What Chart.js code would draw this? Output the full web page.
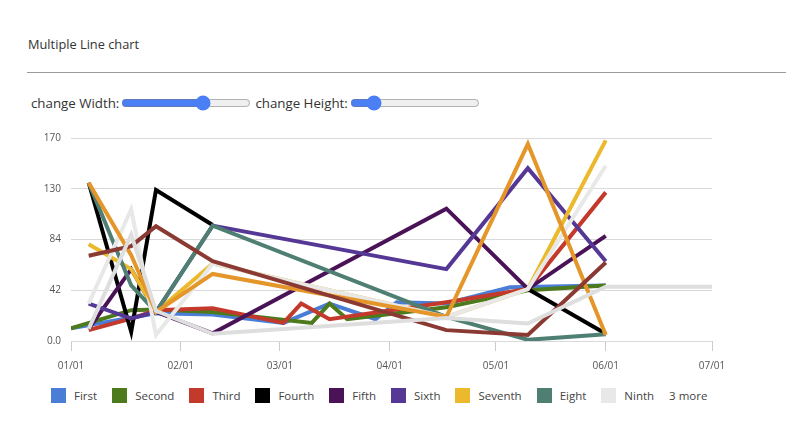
<!DOCTYPE html>
<html>
<head>
<meta charset="utf-8">
<script src="https://cdn.jsdelivr.net/npm/chart.js@4.4.1/dist/chart.umd.min.js"></script>
<style>
  body { margin:0; width:786px; height:444px; background:#fff; font-family:"Open Sans", "Noto Sans", sans-serif; color:#333; position:relative; overflow:hidden; }
  .title { position:absolute; left:28px; top:35px; font-size:12.8px; color:#333; }
  .rule { position:absolute; left:27px; right:0; top:72px; border-top:1px solid #9a9a9a; }
  .controls { position:absolute; left:31px; top:94px; font-size:13.3px; color:#333; display:flex; align-items:center; }
  .controls input { width:130px; margin:0 4px 0 2px; accent-color:#4a7ff5; }
  #wrap { position:absolute; left:20px; top:122px; width:720px; height:249px; }
  #legend { position:absolute; left:51px; top:388px; display:flex; align-items:center; font-size:11.5px; color:#444; }
  .item { display:flex; align-items:center; margin-right:15px; }
  .sw { width:15px; height:15px; margin-right:8px; }
</style>
</head>
<body>
<div class="title">Multiple Line chart</div>
<div class="rule"></div>
<div class="controls">
  <label>change Width:</label><input type="range" min="0" max="100" value="65">
  <label>change Height:</label><input type="range" min="0" max="100" value="14">
</div>
<div id="wrap"><canvas id="lineChart"></canvas></div>
<div id="legend"></div>
<script>
// dates shared by every series (null = no point on that date)
const dates = ['2023-01-01', '2023-01-06', '2023-01-18', '2023-01-25', '2023-02-10', '2023-03-02',
    '2023-03-07', '2023-03-10', '2023-03-15', '2023-03-20', '2023-03-28', '2023-04-03',
    '2023-04-17', '2023-05-05', '2023-05-10', '2023-06-01', '2023-07-01'];
const monthTicks = ['2023-01-01', '2023-02-01', '2023-03-01', '2023-04-01', '2023-05-01', '2023-06-01', '2023-07-01'];
const yTicks = [0, 42, 84, 126, 168];
const yTickLabels = ['0.0', '42', '84', '130', '170'];

const seriesNames = ['First', 'Second', 'Third', 'Fourth', 'Fifth', 'Sixth', 'Seventh', 'Eight', 'Ninth', 'Tenth', 'Eleventh', 'Twelfth'];
const seriesColors = ['#4a7ed6', '#4c7a1c', '#c3392b', '#000000', '#4a1257', '#553895', '#ebb92b', '#4e7f72', '#e8e8e8', '#e5962a', '#8b3a33', '#dedede'];

const first    = [10.5, null, null, 23, 22, 15, null, null, 31, null, 18, 32, 31, 44.5, null, 46, null];
const second   = [10.5, null, 25.5, 26, 24, null, null, 15, 31, 18, null, null, 28, null, 42, 46, null];
const third    = [null, 9, 18.6, 25.5, 27, 15, 31, null, 18, null, null, null, 32, null, 43, 123, null];
const fourth   = [null, 131, 7.6, 125, 96, null, null, null, null, null, null, null, null, null, 43, 6, null];
const fifth    = [null, 10, 59.5, 24, 6.3, null, null, null, null, null, null, null, 109.5, null, 43, 87, null];
const sixth    = [null, 31, 18.6, 24, 95.5, null, null, null, null, null, null, null, 59.5, null, 143, 66, null];
const seventh  = [null, 80, 59.5, 24, 64, null, null, null, null, null, null, null, 20, null, 43, 166, null];
const eighth   = [null, 131, 46, 24, 95.5, null, null, null, null, null, null, null, 20, null, 1, 5.5, null];
const ninth    = [null, 31, 109, 5, 64, null, null, null, null, null, null, null, 20, null, 43, 145, null];
const tenth    = [null, 131, 71, 24, 55.5, null, null, null, null, null, null, null, 20, null, 163, 5, null];
const eleventh = [null, 70.5, 78.5, 95, 66, null, null, null, null, null, null, null, 9, null, 5, 65, null];
const twelfth  = [null, 10, 88, 25, 6, null, null, null, null, null, null, null, 19, null, 14.5, 45, 45];

const allSeries = [first, second, third, fourth, fifth, sixth, seventh, eighth, ninth, tenth, eleventh, twelfth];
// the black line breaks between february and may
const brokenSeries = ['Fourth'];

const dayOf = s => (Date.parse(s) - Date.parse(dates[0])) / 86400000;
const fmt = s => s.slice(5, 7) + '/' + s.slice(8, 10);

Chart.defaults.font.family = '"Open Sans", "Noto Sans", sans-serif';
Chart.defaults.font.size = 10;
Chart.defaults.color = '#555';

const datasets = allSeries.map((vals, i) => ({
    label: seriesNames[i],
    data: dates.map((d, j) => ({ x: dayOf(d), y: vals[j] })),
    borderColor: seriesColors[i],
    backgroundColor: seriesColors[i],
    borderWidth: 4,
    pointRadius: 0,
    tension: 0,
    spanGaps: !brokenSeries.includes(seriesNames[i]),
    order: allSeries.length - i   // later series drawn on top
}));

const chart = new Chart(document.getElementById('lineChart'), {
    type: 'line',
    data: { datasets },
    options: {
        responsive: true,
        maintainAspectRatio: false,
        animation: false,
        layout: { padding: { top: 14, right: 28, left: 0, bottom: 0 } },
        plugins: { legend: { display: false }, tooltip: { enabled: false } },
        scales: {
            x: {
                type: 'linear',
                min: dayOf(monthTicks[0]),
                max: dayOf(monthTicks[monthTicks.length - 1]),
                afterBuildTicks: s => { s.ticks = monthTicks.map(m => ({ value: dayOf(m) })); },
                afterFit: s => { s.height = 30; },
                grid: { drawOnChartArea: false, drawTicks: true, tickLength: 10, color: '#cccccc' },
                border: { display: false },
                ticks: { autoSkip: false, maxRotation: 0, padding: 9, callback: (v, i) => fmt(monthTicks[i]) }
            },
            y: {
                min: yTicks[0],
                max: yTicks[yTicks.length - 1],
                afterBuildTicks: s => { s.ticks = yTicks.map(v => ({ value: v })); },
                afterFit: s => { s.width = 51; },
                grid: { drawTicks: false, color: '#d9d9d9' },
                border: { display: false },
                ticks: { padding: 10, callback: (v, i) => yTickLabels[i] }
            }
        }
    }
});

// html legend: first nine series, then a "more" note
const legend = document.getElementById('legend');
const shown = 9;
chart.data.datasets.slice(0, shown).forEach(ds => {
    const item = document.createElement('div');
    item.className = 'item';
    item.innerHTML = '<span class="sw" style="background:' + ds.borderColor + '"></span><span>' + ds.label + '</span>';
    legend.appendChild(item);
});
const more = document.createElement('div');
more.textContent = (chart.data.datasets.length - shown) + ' more';
legend.appendChild(more);
</script>
</body>
</html>
